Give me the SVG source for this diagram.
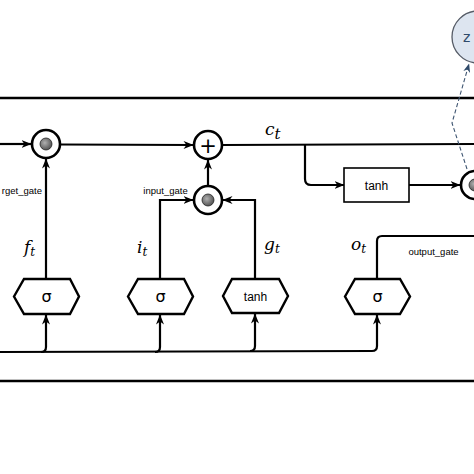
<svg xmlns="http://www.w3.org/2000/svg" width="474" height="474" viewBox="0 0 474 474">
<defs>
<marker id="arr" viewBox="0 0 10 8" markerWidth="10" markerHeight="8" refX="9.5" refY="4" orient="auto" markerUnits="userSpaceOnUse">
<path d="M0,0 L10,4 L0,8 L3,4 z" fill="#000"/>
</marker>
<marker id="arrb" viewBox="0 0 10 8" markerWidth="9" markerHeight="7" refX="9.5" refY="4" orient="auto" markerUnits="userSpaceOnUse">
<path d="M0,0 L10,4 L0,8 L3,4 z" fill="#2f4a6a"/>
</marker>
<radialGradient id="dot" cx="0.4" cy="0.4" r="0.6">
<stop offset="0" stop-color="#b0b0b0"/>
<stop offset="1" stop-color="#555"/>
</radialGradient>
</defs>
<style>
.ln{fill:none;stroke:#000;stroke-width:2.2}
.ar{marker-end:url(#arr)}
.op{fill:#fff;stroke:#000;stroke-width:2.6}
.dt{fill:url(#dot);stroke:#222;stroke-width:0.8}
.hx{fill:#fff;stroke:#000;stroke-width:2.4}
.sg{font-family:"DejaVu Sans",sans-serif;font-size:16px;text-anchor:middle}
.lb{font-family:"Liberation Sans",sans-serif;font-size:9.5px}
.th{font-family:"Liberation Sans",sans-serif;font-size:12px;text-anchor:middle}
.mt{font-family:"DejaVu Serif","Liberation Serif",serif;font-style:italic;font-size:17px}
.sb{font-size:12px}
</style>
<rect width="474" height="474" fill="#fff"/>
<g id="frame">
<line x1="0" y1="98" x2="474" y2="98" stroke="#000" stroke-width="2.6"/>
<line x1="0" y1="381" x2="474" y2="381" stroke="#000" stroke-width="2.6"/>
</g>
<g id="connectors">
<path class="ln ar" d="M0,144 L31,144"/>
<path class="ln ar" d="M61,144.5 L193,145"/>
<path class="ln" d="M222,145 L474,144"/>
<path class="ln ar" d="M305,144 L305,179 Q305,185 311,185 L344,185"/>
<path class="ln ar" d="M409,185 L460,185"/>
<path class="ln ar" d="M208,186 L208,160"/>
<path class="ln ar" d="M46,279 L46,159"/>
<path class="ln ar" d="M160,279 L160,200 L193,200"/>
<path class="ln ar" d="M255,278 L255,200 L223,200"/>
<path class="ln" d="M377,279 L377,241 Q377,236 382,236 L482,236"/>
<path class="ln ar" d="M0,352 L372,351 Q377,351 377,346 L377,315"/>
<path class="ln ar" d="M41,352 Q46,352 46,347 L46,315"/>
<path class="ln ar" d="M155,352 Q160,352 160,347 L160,315"/>
<path class="ln ar" d="M250,351 Q255,351 255,346 L255,314"/>
<path d="M467,169 L452,123 L469,64" fill="none" stroke="#3d5470" stroke-width="1.1" stroke-dasharray="4,2.5" marker-end="url(#arrb)"/>
</g>
<g id="forget_mul">
<circle class="op" cx="46" cy="144" r="14"/>
<circle class="dt" cx="46" cy="144" r="6"/>
</g>
<g id="add">
<circle class="op" cx="208" cy="145" r="14"/>
<text x="208" y="152.5" text-anchor="middle" font-family="DejaVu Sans,sans-serif" font-size="21">+</text>
</g>
<g id="input_mul">
<circle class="op" cx="208" cy="200" r="14"/>
<circle class="dt" cx="208" cy="200" r="6"/>
</g>
<g id="output_mul">
<circle class="op" cx="475" cy="185" r="14"/>
<circle class="dt" cx="475" cy="185" r="6"/>
</g>
<g id="tanh_c">
<rect x="344" y="168" width="65" height="34" fill="#fff" stroke="#000" stroke-width="1.6"/>
<text class="th" x="376.5" y="189.5">tanh</text>
</g>
<g id="sigma_f">
<polygon class="hx" points="14,296.5 24,279 70,279 79,296.5 70,314 24,314"/>
<text class="sg" x="46.5" y="301.5">σ</text>
</g>
<g id="sigma_i">
<polygon class="hx" points="128,296.5 138,279 184,279 193,296.5 184,314 138,314"/>
<text class="sg" x="160.5" y="301.5">σ</text>
</g>
<g id="tanh_g">
<polygon class="hx" points="223,296 232,279 279,279 288,296 279,313 232,313"/>
<text class="th" x="255.5" y="300.5">tanh</text>
</g>
<g id="sigma_o">
<polygon class="hx" points="345,296.5 355,279 400,279 410,296.5 400,314 355,314"/>
<text class="sg" x="377.5" y="301.5">σ</text>
</g>
<g id="output">
<circle cx="478" cy="37" r="26" fill="#dde5f0" stroke="#555b66" stroke-width="1.3"/>
<text x="463" y="42" font-family="DejaVu Sans,sans-serif" font-size="14" fill="#2f4a6a">z</text>
</g>
<g id="labels">
<text class="lb" x="42" y="194" text-anchor="end">rget_gate</text>
<text class="lb" x="165.5" y="194" text-anchor="middle">input_gate</text>
<text class="lb" x="433.5" y="255" text-anchor="middle">output_gate</text>
<text class="mt" x="24" y="253">f<tspan class="sb" dy="3">t</tspan></text>
<text class="mt" x="137" y="253">i<tspan class="sb" dy="3">t</tspan></text>
<text class="mt" x="264" y="250">g<tspan class="sb" dy="3">t</tspan></text>
<text class="mt" x="351" y="250">o<tspan class="sb" dy="3">t</tspan></text>
<text class="mt" x="265" y="135" font-size="22">c<tspan font-size="15" dy="4">t</tspan></text>
</g>
</svg>
